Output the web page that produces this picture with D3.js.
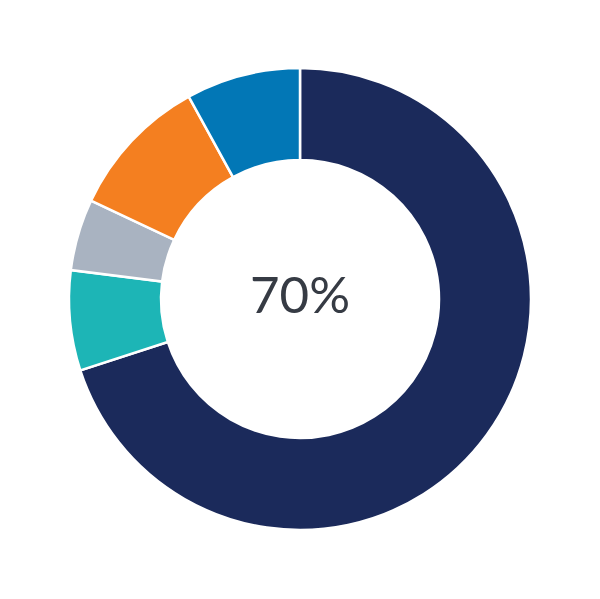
<!DOCTYPE html>
<html>
<head>
<meta charset="utf-8">
<script src="https://cdn.jsdelivr.net/npm/d3@7"></script>
<style>
  body { margin: 0; background: #fff; }
</style>
</head>
<body>
<div id="chart"></div>
<script>
// slice data, clockwise from 12 o'clock
var categories = ["A", "B", "C", "D", "E"];
var values = [70, 7, 5, 10, 8];
var colors = ["#1b2a5b", "#1db5b6", "#a9b3c1", "#f47f20", "#0277b6"];
var centerLabel = "70%";

var width = 600,
    height = 599,
    outer = 231,
    inner = 139;

var svg = d3.select("#chart")
  .append("svg")
    .attr("width", width)
    .attr("height", height)
  .append("g")
    .attr("transform", "translate(" + 300 + "," + 299 + ")");

var data = categories.map(function(c, i) { return {cat: c, value: values[i]}; });

var color = d3.scaleOrdinal()
    .domain(categories)
    .range(colors);

var pie = d3.pie()
    .sort(null)
    .value(function(d) { return d.value; });

var arc = d3.arc()
    .innerRadius(inner)
    .outerRadius(outer);

svg.selectAll("path")
  .data(pie(data))
  .enter()
  .append("path")
    .attr("d", arc)
    .attr("fill", function(d) { return color(d.data.cat); })
    .attr("stroke", "#fff")
    .attr("stroke-width", 2.5);

svg.append("text")
    .attr("text-anchor", "middle")
    .attr("y", 14)
    .style("font-family", "Lato, 'Open Sans', sans-serif")
    .style("font-weight", 400)
    .style("font-size", "51px")
    .style("fill", "#363b44")
    .text(centerLabel);
</script>
</body>
</html>
